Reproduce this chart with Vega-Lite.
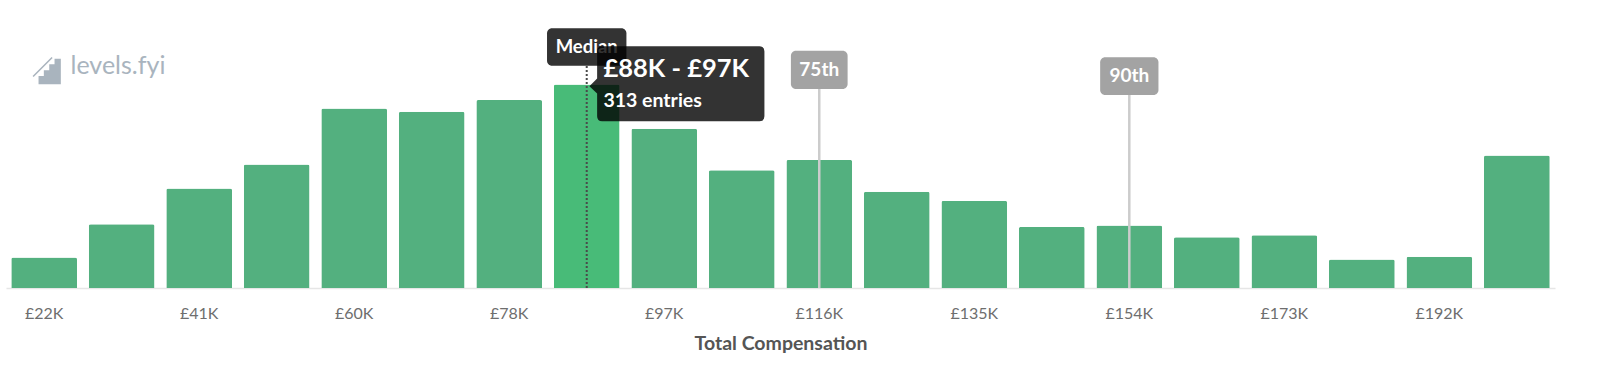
{
  "$schema": "https://vega.github.io/schema/vega-lite/v6.json",
  "autosize": "none",
  "padding": {"left": 6, "top": 0, "right": 45, "bottom": 100},
  "width": 1549,
  "height": 288,
  "config": {"font": "Lato", "view": {"stroke": null}},
  "data": {"values": [{}]},
  "datasets": {
    "bins": [
      {"bin": "£22K", "count": 47},
      {"bin": "£31K", "count": 98},
      {"bin": "£41K", "count": 153},
      {"bin": "£50K", "count": 190},
      {"bin": "£60K", "count": 276},
      {"bin": "£69K", "count": 271},
      {"bin": "£78K", "count": 289},
      {"bin": "£88K", "count": 313},
      {"bin": "£97K", "count": 245},
      {"bin": "£107K", "count": 181},
      {"bin": "£116K", "count": 197},
      {"bin": "£126K", "count": 148},
      {"bin": "£135K", "count": 134},
      {"bin": "£145K", "count": 94},
      {"bin": "£154K", "count": 96},
      {"bin": "£164K", "count": 78},
      {"bin": "£173K", "count": 81},
      {"bin": "£182K", "count": 44},
      {"bin": "£192K", "count": 48},
      {"bin": "£201K", "count": 204}
    ],
    "hover": [
      {"bin": "£88K", "count": 313, "range": "£88K - £97K", "entries": "313 entries"}
    ]
  },
  "layer": [
    {
      "data": {"name": "bins"},
      "mark": {"type": "bar", "cornerRadiusTopLeft": 2, "cornerRadiusTopRight": 2},
      "encoding": {
        "x": {
          "field": "bin", "type": "nominal", "sort": null,
          "scale": {
            "domain": ["£22K", "£31K", "£41K", "£50K", "£60K", "£69K", "£78K", "£88K", "£97K", "£107K", "£116K", "£126K", "£135K", "£145K", "£154K", "£164K", "£173K", "£182K", "£192K", "£201K"],
            "paddingInner": 0.152, "paddingOuter": 0.068
          },
          "axis": {
            "title": "Total Compensation",
            "values": ["£22K", "£41K", "£60K", "£78K", "£97K", "£116K", "£135K", "£154K", "£173K", "£192K"],
            "labelAngle": 0, "labelFontSize": 16, "labelColor": "#6e6e6e", "labelPadding": 17,
            "ticks": false, "tickSize": 0,
            "domainColor": "#e6e6e6", "domainWidth": 1.5,
            "titleFontSize": 19.5, "titleFontWeight": "bold", "titleColor": "#555555",
            "titleBaseline": "alphabetic", "titleY": 61, "grid": false
          }
        },
        "y": {"field": "count", "type": "quantitative", "scale": {"domain": [0, 443], "nice": false}, "axis": null},
        "color": {
          "condition": {"test": "datum.bin === '£88K'", "value": "#48BB78"},
          "value": "#53B07F"
        }
      }
    },
    {
      "mark": {"type": "rule", "color": "#cccccc", "strokeWidth": 2.5},
      "encoding": {"x": {"datum": "£116K"}, "y": {"datum": 0}, "y2": {"datum": 306.1}}
    },
    {
      "mark": {"type": "rule", "color": "#cccccc", "strokeWidth": 2.5},
      "encoding": {"x": {"datum": "£154K"}, "y": {"datum": 0}, "y2": {"datum": 296.9}}
    },
    {
      "mark": {"type": "rule", "color": "#4a4a4a", "strokeWidth": 2, "strokeDash": [2, 2]},
      "encoding": {"x": {"datum": "£88K"}, "y": {"datum": 0}, "y2": {"datum": 341.9}}
    },
    {
      "mark": {"type": "bar", "width": 56.7, "cornerRadius": 5, "color": "#a3a3a3"},
      "encoding": {"x": {"datum": "£116K"}, "y": {"datum": 365.0}, "y2": {"datum": 306.1}}
    },
    {
      "mark": {"type": "text", "text": "75th", "color": "#ffffff", "fontSize": 19, "fontWeight": "bold", "baseline": "middle", "align": "center"},
      "encoding": {"x": {"datum": "£116K"}, "y": {"datum": 335.8}}
    },
    {
      "mark": {"type": "bar", "width": 58.3, "cornerRadius": 5, "color": "#a3a3a3"},
      "encoding": {"x": {"datum": "£154K"}, "y": {"datum": 354.9}, "y2": {"datum": 296.9}}
    },
    {
      "mark": {"type": "text", "text": "90th", "color": "#ffffff", "fontSize": 19, "fontWeight": "bold", "baseline": "middle", "align": "center"},
      "encoding": {"x": {"datum": "£154K"}, "y": {"datum": 326.1}}
    },
    {
      "mark": {"type": "bar", "width": 79.4, "cornerRadius": 5, "color": "#333333"},
      "encoding": {"x": {"datum": "£88K"}, "y": {"datum": 399.5}, "y2": {"datum": 341.9}}
    },
    {
      "mark": {"type": "text", "text": "Median", "color": "#ffffff", "fontSize": 18.5, "fontWeight": "bold", "baseline": "middle", "align": "center"},
      "encoding": {"x": {"datum": "£88K"}, "y": {"datum": 371.2}}
    },
    {
      "data": {"name": "hover"},
      "mark": {
        "type": "point", "filled": true, "size": 4, "color": "#000000", "opacity": 0.8,
        "shape": "M 15.4 -38.3 L 172.7 -38.3 Q 177.7 -38.3 177.7 -33.3 L 177.7 31.7 Q 177.7 36.7 172.7 36.7 L 15.4 36.7 Q 10.4 36.7 10.4 31.7 L 10.4 9 L 2.7 1.7 L 10.4 -6 L 10.4 -33.3 Q 10.4 -38.3 15.4 -38.3 Z"
      },
      "encoding": {"x": {"field": "bin", "type": "nominal"}, "y": {"field": "count", "type": "quantitative"}}
    },
    {
      "data": {"name": "hover"},
      "mark": {"type": "text", "color": "#ffffff", "fontSize": 25.5, "fontWeight": "bold", "align": "left", "baseline": "middle", "dx": 16.7, "dy": -15.5},
      "encoding": {"x": {"field": "bin", "type": "nominal"}, "y": {"field": "count", "type": "quantitative"}, "text": {"field": "range"}}
    },
    {
      "data": {"name": "hover"},
      "mark": {"type": "text", "color": "#ffffff", "fontSize": 19.5, "fontWeight": "bold", "align": "left", "baseline": "middle", "dx": 16.7, "dy": 16.7},
      "encoding": {"x": {"field": "bin", "type": "nominal"}, "y": {"field": "count", "type": "quantitative"}, "text": {"field": "entries"}}
    },
    {
      "mark": {
        "type": "point", "filled": true, "size": 4, "color": "#a9b4be", "opacity": 1,
        "shape": "M -5.6 13.5 L -5.6 5.2 L -0.3 5.2 L -0.3 -0.5 L 5.1 -0.5 L 5.1 -6.5 L 10.4 -6.5 L 10.4 -12.1 L 16.7 -12.1 L 16.7 13.5 Z M -11.6 5.2 L 7.4 -13.8 L 8.5 -12.7 L -10.5 6.3 Z"
      },
      "encoding": {"x": {"datum": "£22K"}, "y": {"datum": 334.1}}
    },
    {
      "mark": {"type": "text", "text": "levels.fyi", "color": "#a9b4be", "fontSize": 25, "align": "left", "baseline": "alphabetic", "dx": 26.4},
      "encoding": {"x": {"datum": "£22K"}, "y": {"datum": 328.7}}
    }
  ]
}
